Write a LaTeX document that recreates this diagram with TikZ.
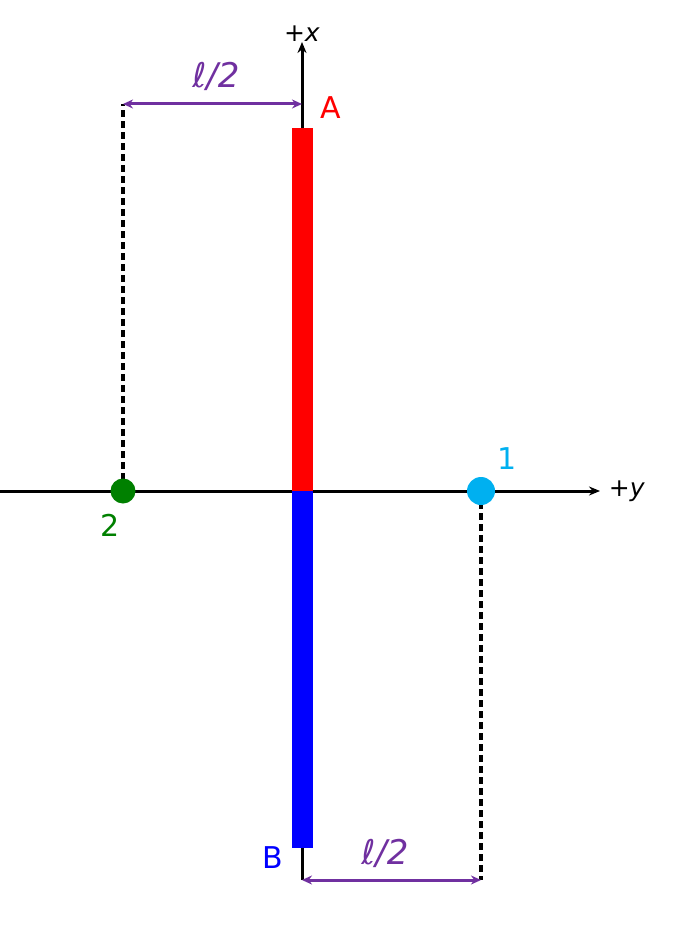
\documentclass[tikz,border=0pt]{standalone}
\usepackage{fontspec}
\setmainfont{DejaVu Sans}
\usetikzlibrary{arrows.meta}
\definecolor{dimc}{RGB}{112,48,160}
\definecolor{ptone}{RGB}{0,176,240}
\definecolor{pttwo}{RGB}{0,128,0}
\tikzset{
 axis/.style={line width=3pt,-{Stealth[length=11pt,width=9pt]}},
 dim/.style={dimc,line width=3pt,{Stealth[length=10pt,width=9pt]}-{Stealth[length=10pt,width=9pt]}},
 guide/.style={line width=3.2pt,dash pattern=on 7pt off 4pt},
 lbl/.style={font=\fontsize{30}{34}\selectfont},
 dimlbl/.style={dimc,font=\fontsize{34}{38}\selectfont\itshape}
}
\begin{document}
\begin{tikzpicture}[x=1pt,y=-1pt]
\useasboundingbox (0,0) rectangle (675,925);
\coordinate (O) at (302,491);
\coordinate (xl) at (0,491);
\coordinate (xr) at (600,491);
\coordinate (yb) at (302,880);
\coordinate (yt) at (302,42);
\coordinate (p2c) at (123,491);
\coordinate (p1c) at (481,491);
\coordinate (t2) at (123,104);
\coordinate (b1) at (481,880);
\coordinate (ta) at (302,104);
\draw[guide] (p2c) -- (t2);
\draw[guide] (p1c) -- (b1);
\draw[axis] (xl) -- (xr);
\draw[axis] (yb) -- (yt);
\fill[red] (292,128) rectangle (313,491);
\fill[blue] (292,491) rectangle (313,848);
\node[circle,fill=pttwo,minimum size=25pt,inner sep=0] (p2) at (p2c) {};
\node[circle,fill=ptone,minimum size=28pt,inner sep=0] (p1) at (p1c) {};
\draw[dim] (t2) -- (ta);
\draw[dim] (yb) -- (b1);
\node[dimlbl] (l1) at (216,76) {ℓ/2};
\node[dimlbl] (l2) at (385,853) {ℓ/2};
\node[lbl,red] (A) at (331,108) {A};
\node[lbl,blue] (B) at (273,858) {B};
\node[lbl,ptone] (n1) at (507,459) {1};
\node[lbl,pttwo] (n2) at (110,525) {2};
\node[font=\fontsize{25}{28}\selectfont] (X) at (302,34) {+\textit{x}};
\node[font=\fontsize{25}{28}\selectfont] (Y) at (627,491) {+\textit{y}};
\end{tikzpicture}
\end{document}
